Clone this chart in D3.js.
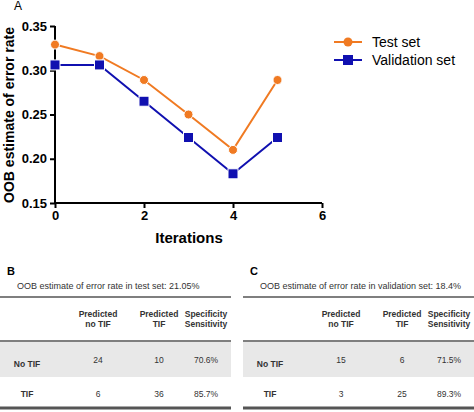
<!DOCTYPE html>
<html><head><meta charset="utf-8">
<script src="https://cdn.jsdelivr.net/npm/d3@7"></script>
<style>body{margin:0;background:#fff}text{font-family:Arial,"Liberation Sans",sans-serif}</style>
</head><body>
<svg id="c" width="474" height="412"></svg>
<script>
var iterations = [0, 1, 2, 3, 4, 5];
var testSet = [0.329, 0.316, 0.289, 0.250, 0.210, 0.289];
var validationSet = [0.306, 0.306, 0.265, 0.224, 0.183, 0.224];
var xTicks = [0, 2, 4, 6];
var yTicks = [0.15, 0.20, 0.25, 0.30, 0.35];
var colHeads = [["Predicted", "no TIF"], ["Predicted", "TIF"], ["Specificity", "Sensitivity"]];
var tableB = {label: "B", title: "OOB estimate of error rate  in test set: 21.05%",
  rows: [["No TIF", "24", "10", "70.6%"], ["TIF", "6", "36", "85.7%"]]};
var tableC = {label: "C", title: "OOB estimate of  error rate  in validation set: 18.4%",
  rows: [["No TIF", "15", "6", "71.5%"], ["TIF", "3", "25", "89.3%"]]};

var svg = d3.select('#c');
var orange = '#f07a22', blue = '#1010b0';
var x = d3.scaleLinear().domain([0, 6]).range([55, 322]);
var y = d3.scaleLinear().domain([0.15, 0.35]).range([203, 26]);

svg.append('text').attr('x', 14).attr('y', 10).attr('font-size', 12).text('A');

var gx = svg.append('g').attr('transform', 'translate(0,203)')
  .call(d3.axisBottom(x).tickValues(xTicks).tickSize(5).tickFormat(d3.format('d')));
var gy = svg.append('g').attr('transform', 'translate(55,0)')
  .call(d3.axisLeft(y).tickValues(yTicks).tickSize(5).tickFormat(d3.format('.2f')));
[gx, gy].forEach(function(g) {
  g.selectAll('path,line').attr('stroke', '#000').attr('stroke-width', 2);
  g.selectAll('text').attr('font-size', 13).attr('font-weight', 'bold').attr('fill', '#000');
});
gx.select('.domain').attr('d', 'M55,0H322');
gy.select('.domain').attr('d', 'M0,26V203');

svg.append('text').attr('x', 189).attr('y', 243).attr('text-anchor', 'middle')
  .attr('font-size', 15).attr('font-weight', 'bold').text('Iterations');
svg.append('text').attr('transform', 'translate(14,115) rotate(-90)').attr('text-anchor', 'middle')
  .attr('font-size', 14).attr('font-weight', 'bold').text('OOB estimate of error rate');

var line = d3.line().x(function(d, i) { return x(iterations[i]); }).y(function(d) { return y(d); });
svg.append('path').datum(testSet).attr('d', line).attr('fill', 'none').attr('stroke', orange).attr('stroke-width', 2);
svg.append('path').datum(validationSet).attr('d', line).attr('fill', 'none').attr('stroke', blue).attr('stroke-width', 2);
svg.selectAll('.pt').data(testSet).enter().append('circle')
  .attr('cx', function(d, i) { return x(iterations[i]); }).attr('cy', y).attr('r', 4.5)
  .attr('fill', orange).attr('stroke', '#fff').attr('stroke-width', 1);
svg.selectAll('.sq').data(validationSet).enter().append('rect')
  .attr('x', function(d, i) { return x(iterations[i]) - 5; }).attr('y', function(d) { return y(d) - 5; })
  .attr('width', 10).attr('height', 10).attr('fill', blue).attr('stroke', '#fff').attr('stroke-width', 1);

// legend
var lg = svg.append('g');
lg.append('line').attr('x1', 334).attr('x2', 362).attr('y1', 42).attr('y2', 42).attr('stroke', orange).attr('stroke-width', 2);
lg.append('circle').attr('cx', 348).attr('cy', 42).attr('r', 4.5).attr('fill', orange);
lg.append('text').attr('x', 372).attr('y', 47).attr('font-size', 14).text('Test set');
lg.append('line').attr('x1', 334).attr('x2', 362).attr('y1', 60).attr('y2', 60).attr('stroke', blue).attr('stroke-width', 2);
lg.append('rect').attr('x', 343).attr('y', 55).attr('width', 10).attr('height', 10).attr('fill', blue);
lg.append('text').attr('x', 372).attr('y', 65).attr('font-size', 14).text('Validation set');

function drawTable(t, x0) {
  var g = svg.append('g').attr('transform', 'translate(' + x0 + ',0)');
  var cols = [27, 98, 159, 206];
  g.append('text').attr('x', 7).attr('y', 275).attr('font-size', 11).attr('font-weight', 'bold').text(t.label);
  g.append('text').attr('x', 17).attr('y', 289).attr('font-size', 9).attr('fill', '#333').text(t.title);
  g.append('rect').attr('x', 0).attr('y', 342).attr('width', 231).attr('height', 35).attr('fill', '#e8e8e8');
  [297, 341, 408].forEach(function(yy, i) {
    g.append('line').attr('x1', 0).attr('x2', 231).attr('y1', yy).attr('y2', yy)
      .attr('stroke', '#555').attr('stroke-width', i === 2 ? 3 : 1.5);
  });
  colHeads.forEach(function(h, i) {
    h.forEach(function(s, j) {
      g.append('text').attr('x', cols[i + 1]).attr('y', 317 + j * 10).attr('text-anchor', 'middle')
        .attr('font-size', 8.5).attr('font-weight', 'bold').attr('fill', '#333').text(s);
    });
  });
  t.rows.forEach(function(r, ri) {
    var yy = ri === 0 ? [367, 363] : [397, 397];
    r.forEach(function(s, ci) {
      g.append('text').attr('x', cols[ci]).attr('y', ci === 0 ? yy[0] : yy[1]).attr('text-anchor', 'middle')
        .attr('font-size', 8.5).attr('font-weight', ci === 0 ? 'bold' : 'normal').attr('fill', '#333').text(s);
    });
  });
}
drawTable(tableB, 0);
drawTable(tableC, 243);
</script>
</body></html>
